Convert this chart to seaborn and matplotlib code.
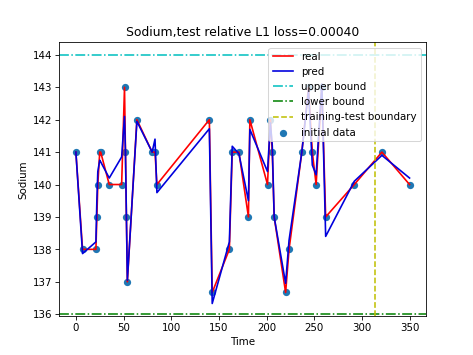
import matplotlib
matplotlib.use("Agg")
import matplotlib.pyplot as plt
import seaborn as sns
import numpy as np

time = [0, 7, 21, 22, 23, 25, 26, 35, 48, 51, 52, 53, 54, 64, 80, 83, 85,
        140, 143, 161, 164, 171, 181, 182.5, 201, 204, 206, 208, 220, 223.6,
        237, 244, 248, 252, 258, 262, 292, 321, 350]
real = [141, 138, 138, 139, 140, 141, 141, 140, 140, 143, 141, 139, 137, 142, 141, 141, 140,
        142, 136.67, 138, 141, 141, 139, 142, 140, 142, 141, 139, 136.67, 138,
        141, 143, 141, 140, 143, 139, 140, 141, 140]
pred = [141.0, 137.87, 138.23, 139.5, 140.4, 140.75, 140.7, 140.2, 140.85, 142.1, 141.0, 139.0,
        137.05, 141.95, 141.0, 141.4, 139.75,
        141.72, 136.33, 138.23, 141.18, 140.95, 139.5, 141.7, 140.4, 141.9, 141.2, 139.0,
        136.95, 138.28,
        141.0, 142.9, 140.6, 140.3, 143.1, 138.4, 140.1, 140.9, 140.2]
upper_bound = 144
lower_bound = 136
boundary = 314
title = "Sodium,test relative L1 loss=0.00040"

fig, ax = plt.subplots(figsize=(6.4, 4.8), dpi=74)

sns.lineplot(x=time, y=real, color="r", label="real", ax=ax, linewidth=1.6)
sns.lineplot(x=time, y=pred, color="#0000dd", label="pred", ax=ax, linewidth=1.6)
ax.axhline(upper_bound, color="c", linestyle="-.", label="upper bound")
ax.axhline(lower_bound, color="g", linestyle="-.", label="lower bound")
ax.axvline(boundary, color="y", linestyle="--", label="training-test boundary")
sns.scatterplot(x=time, y=real, label="initial data", ax=ax, color="#1f77b4",
                s=50, linewidth=0, zorder=1)

handles, labels = ax.get_legend_handles_labels()
order = ["real", "pred", "upper bound", "lower bound", "training-test boundary", "initial data"]
hl = dict(zip(labels, handles))
ax.legend([hl[k] for k in order], order, loc="upper right")

ymin = min(pred)
span = upper_bound - ymin
ax.set_ylim(ymin - 0.05 * span, upper_bound + 0.05 * span)

ax.set_title(title)
ax.set_xlabel("Time")
ax.set_ylabel("Sodium")

fig.savefig("out.png", dpi=74)
